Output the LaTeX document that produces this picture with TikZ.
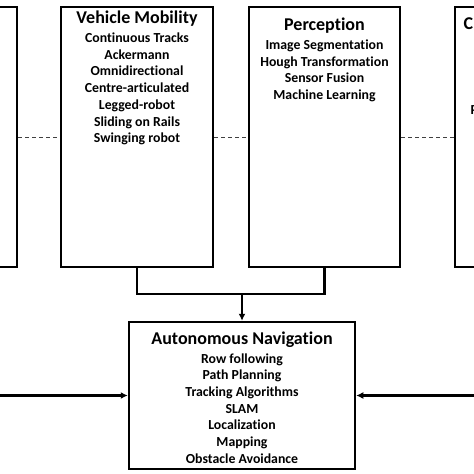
\documentclass[tikz,border=0pt]{standalone}
\usepackage{fontspec}
\setmainfont{Carlito}[Ligatures=NoCommon]
\usetikzlibrary{arrows.meta}
\newcommand\ttlsize{\fontsize{18}{19}\selectfont}
\begin{document}
\begin{tikzpicture}[x=1pt,y=-1pt,
  box/.style={draw, line width=2.5pt, inner sep=0pt, minimum width=#1},
  txt/.style={align=center, inner sep=0pt, font=\bfseries\fontsize{13.8}{16.7}\selectfont},
  conn/.style={line width=2.2pt},
  arr/.style={line width=2.2pt, -{Latex[length=7pt,width=7pt]}},
  dsh/.style={line width=0.8pt, black!75, dash pattern=on 4pt off 3pt}]
\useasboundingbox (0,0) rectangle (474,474);
\clip (0,0) rectangle (474,474);
\fill[white] (0,0) rectangle (474,474);
% boxes
\node[box=150pt, minimum height=260pt] (lb) at (-58,137) {};
\node[box=152pt, minimum height=260pt] (vm) at (137,137) {};
\node[box=151pt, minimum height=260pt] (pc) at (324.5,137) {};
\node[box=152pt, minimum height=260pt] (rb) at (531,137) {};
\node[box=226pt, minimum height=147pt] (an) at (242,395.5) {};
% texts
\node[txt, anchor=north] (vmt) at (137,11) {{\ttlsize Vehicle Mobility}\\[2pt]
 Continuous Tracks\\ Ackermann\\ Omnidirectional\\ Centre-articulated\\ Legged-robot\\ Sliding on Rails\\ Swinging robot};
\node[txt, anchor=north] (pct) at (324.5,18) {{\ttlsize Perception}\\[2pt]
 Image Segmentation\\ Hough Transformation\\ Sensor Fusion\\ Machine Learning};
\node[txt, anchor=north] (ant) at (242,331.5) {{\ttlsize Autonomous Navigation}\\[2pt]
 Row following\\ Path Planning\\ Tracking Algorithms\\ SLAM\\ Localization\\ Mapping\\ Obstacle Avoidance};
\node[txt, anchor=west, font=\bfseries\ttlsize] (rbt) at (463.5,24) {C};
\node[txt, anchor=west] (rbi) at (470.5,110) {P};
% dashed links
\draw[dsh] (lb.east) -- (vm.west);
\draw[dsh] (vm.east) -- (pc.west);
\draw[dsh] (pc.east) -- (rb.west);
% connectors
\coordinate (j) at (242,294);
\draw[conn] (vm.south) -- (vm.south |- j) -| (pc.south);
\draw[arr] (j) -- (an.north);
\coordinate (lin) at (-10,395.5);
\coordinate (rin) at (484,395.5);
\draw[arr] (lin) -- (an.west);
\draw[arr] (rin) -- (an.east);
\end{tikzpicture}
\end{document}
